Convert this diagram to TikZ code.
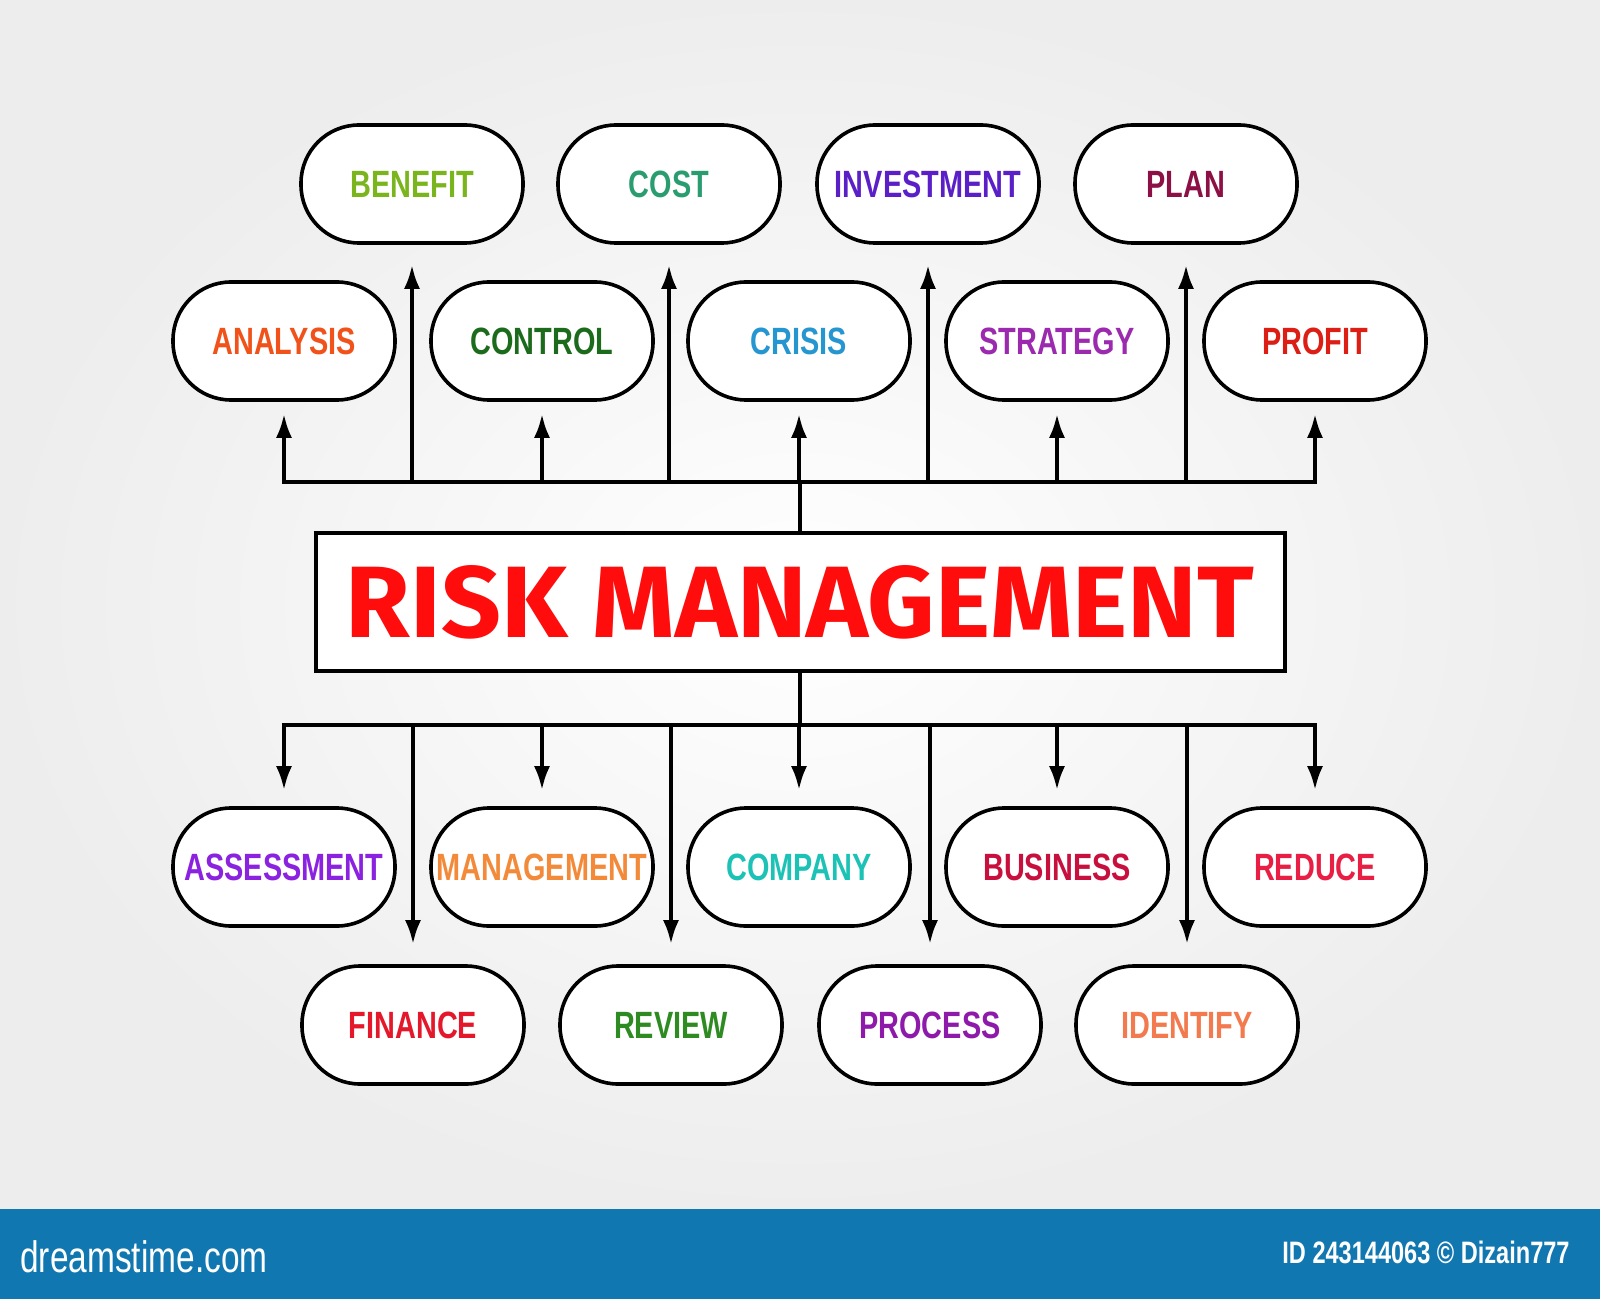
\documentclass[tikz,border=0pt]{standalone}
\usepackage{fontspec}
\setmainfont[FakeStretch=0.76]{Liberation Sans}
\newfontfamily\titlefont{Fira Sans}
\usepackage{tikz}
\usetikzlibrary{arrows.meta,calc}

\definecolor{bannerblue}{RGB}{17,119,176}
\definecolor{titlered}{RGB}{255,12,12}
\definecolor{cBenefit}{HTML}{7AB51D}
\definecolor{cCost}{HTML}{2A9D70}
\definecolor{cInvest}{HTML}{5B1FC8}
\definecolor{cPlan}{HTML}{8C0F45}
\definecolor{cAnalysis}{HTML}{F0521A}
\definecolor{cControl}{HTML}{1C6B1C}
\definecolor{cCrisis}{HTML}{2596CF}
\definecolor{cStrategy}{HTML}{9B2AAE}
\definecolor{cProfit}{HTML}{DC1E14}
\definecolor{cAssess}{HTML}{8A22E0}
\definecolor{cManage}{HTML}{F28A3A}
\definecolor{cCompany}{HTML}{1CC2B5}
\definecolor{cBusiness}{HTML}{C8103E}
\definecolor{cReduce}{HTML}{E81E44}
\definecolor{cFinance}{HTML}{E4182A}
\definecolor{cReview}{HTML}{2E8B22}
\definecolor{cProcess}{HTML}{8E1AAA}
\definecolor{cIdentify}{HTML}{F27A4E}

\tikzset{
  pill/.style={draw, line width=1.8pt, rounded corners=29pt, fill=white, inner sep=1pt,
    minimum width=111pt, minimum height=59pt, font=\fontsize{19}{19}\selectfont\bfseries},
  link/.style={line width=2pt},
  linkarrow/.style={link, -{Latex[length=12pt,width=8pt]}},
}

\begin{document}
\begin{tikzpicture}[x=0.5pt,y=-0.5pt]
		\useasboundingbox (0,0) rectangle (1600,1299);
		\shade[inner color=white, outer color=black!7] (0,0) rectangle (1600,1209);
		\fill[bannerblue] (0,1209) rectangle (1600,1299);
		% centre box
		\node at (800,602) [draw, line width=2pt, fill=white, minimum width=484.5pt, minimum height=69pt] (risk) {\color{titlered}\resizebox{454pt}{36pt}{\titlefont\bfseries RISK\ MANAGEMENT}};
		% upper rows
		\node at (412,184) [pill, text=cBenefit] (benefit) {BENEFIT};
		\node at (669,184) [pill, text=cCost] (cost) {COST};
		\node at (928,184) [pill, text=cInvest] (investment) {INVESTMENT};
		\node at (1186,184) [pill, text=cPlan] (plan) {PLAN};
		\node at (284,341) [pill, text=cAnalysis] (analysis) {ANALYSIS};
		\node at (542,341) [pill, text=cControl] (control) {CONTROL};
		\node at (799,341) [pill, text=cCrisis] (crisis) {CRISIS};
		\node at (1057,341) [pill, text=cStrategy] (strategy) {STRATEGY};
		\node at (1315,341) [pill, text=cProfit] (profit) {PROFIT};
		% lower rows
		\node at (284,867) [pill, text=cAssess] (assessment) {ASSESSMENT};
		\node at (542,867) [pill, text=cManage] (management) {MANAGEMENT};
		\node at (799,867) [pill, text=cCompany] (company) {COMPANY};
		\node at (1057,867) [pill, text=cBusiness] (business) {BUSINESS};
		\node at (1315,867) [pill, text=cReduce] (reduce) {REDUCE};
		\node at (413,1025) [pill, text=cFinance] (finance) {FINANCE};
		\node at (671,1025) [pill, text=cReview] (review) {REVIEW};
		\node at (930,1025) [pill, text=cProcess] (process) {PROCESS};
		\node at (1187,1025) [pill, text=cIdentify] (identify) {IDENTIFY};
		% connectors
		\coordinate (topbus) at (800,482);
		\coordinate (botbus) at (800,725);
		\draw[link] (risk.north) -- (topbus);
		\draw[link] (risk.south) -- (botbus);
		\foreach \n in {analysis,control,crisis,strategy,profit}
			\draw[linkarrow, shorten >=6pt] (topbus) -| (\n);
		\foreach \n in {benefit,cost,investment,plan}
			\draw[linkarrow, shorten >=10pt] (topbus) -| (\n);
		\foreach \n in {assessment,management,company,business,reduce}
			\draw[linkarrow, shorten >=8pt] (botbus) -| (\n);
		\foreach \n in {finance,review,process,identify}
			\draw[linkarrow, shorten >=10pt] (botbus) -| (\n);
		% banner
		\node at (20,1272) [anchor=base west, text=white, inner sep=0pt, font=\fontsize{22}{22}\selectfont] (site) {dreamstime.com};
		\node at (1570,1263) [anchor=base east, text=white, inner sep=0pt, font=\fontsize{15.5}{15.5}\selectfont\bfseries] (imgid) {ID 243144063 © Dizain777};
\end{tikzpicture}
\end{document}
